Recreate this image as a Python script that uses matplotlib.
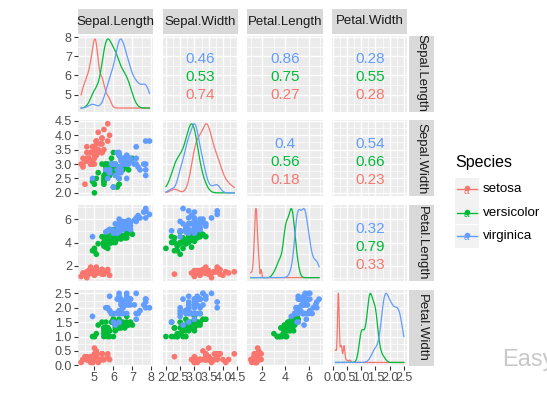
import numpy as np
import matplotlib
matplotlib.use("Agg")
import matplotlib.pyplot as plt

plt.rcParams['font.family'] = ['Liberation Sans', 'DejaVu Sans']

# ---------------- data (iris) ----------------
variables = ["Sepal.Length", "Sepal.Width", "Petal.Length", "Petal.Width"]
species = ["setosa", "versicolor", "virginica"]
colors = ["#F8766D", "#00BA38", "#619CFF"]

setosa_sl = [5.1,4.9,4.7,4.6,5.0,5.4,4.6,5.0,4.4,4.9,5.4,4.8,4.8,4.3,5.8,5.7,5.4,5.1,5.7,5.1,5.4,5.1,4.6,5.1,4.8,5.0,5.0,5.2,5.2,4.7,4.8,5.4,5.2,5.5,4.9,5.0,5.5,4.9,4.4,5.1,5.0,4.5,4.4,5.0,5.1,4.8,5.1,4.6,5.3,5.0]
setosa_sw = [3.5,3.0,3.2,3.1,3.6,3.9,3.4,3.4,2.9,3.1,3.7,3.4,3.0,3.0,4.0,4.4,3.9,3.5,3.8,3.8,3.4,3.7,3.6,3.3,3.4,3.0,3.4,3.5,3.4,3.2,3.1,3.4,4.1,4.2,3.1,3.2,3.5,3.6,3.0,3.4,3.5,2.3,3.2,3.5,3.8,3.0,3.8,3.2,3.7,3.3]
setosa_pl = [1.4,1.4,1.3,1.5,1.4,1.7,1.4,1.5,1.4,1.5,1.5,1.6,1.4,1.1,1.2,1.5,1.3,1.4,1.7,1.5,1.7,1.5,1.0,1.7,1.9,1.6,1.6,1.5,1.4,1.6,1.6,1.5,1.5,1.4,1.5,1.2,1.3,1.4,1.3,1.5,1.3,1.3,1.3,1.6,1.9,1.4,1.6,1.4,1.5,1.4]
setosa_pw = [0.2,0.2,0.2,0.2,0.2,0.4,0.3,0.2,0.2,0.1,0.2,0.2,0.1,0.1,0.2,0.4,0.4,0.3,0.3,0.3,0.2,0.4,0.2,0.5,0.2,0.2,0.4,0.2,0.2,0.2,0.2,0.4,0.1,0.2,0.2,0.2,0.2,0.1,0.2,0.2,0.3,0.3,0.2,0.6,0.4,0.3,0.2,0.2,0.2,0.2]

versicolor_sl = [7.0,6.4,6.9,5.5,6.5,5.7,6.3,4.9,6.6,5.2,5.0,5.9,6.0,6.1,5.6,6.7,5.6,5.8,6.2,5.6,5.9,6.1,6.3,6.1,6.4,6.6,6.8,6.7,6.0,5.7,5.5,5.5,5.8,6.0,5.4,6.0,6.7,6.3,5.6,5.5,5.5,6.1,5.8,5.0,5.6,5.7,5.7,6.2,5.1,5.7]
versicolor_sw = [3.2,3.2,3.1,2.3,2.8,2.8,3.3,2.4,2.9,2.7,2.0,3.0,2.2,2.9,2.9,3.1,3.0,2.7,2.2,2.5,3.2,2.8,2.5,2.8,2.9,3.0,2.8,3.0,2.9,2.6,2.4,2.4,2.7,2.7,3.0,3.4,3.1,2.3,3.0,2.5,2.6,3.0,2.6,2.3,2.7,3.0,2.9,2.9,2.5,2.8]
versicolor_pl = [4.7,4.5,4.9,4.0,4.6,4.5,4.7,3.3,4.6,3.9,3.5,4.2,4.0,4.7,3.6,4.4,4.5,4.1,4.5,3.9,4.8,4.0,4.9,4.7,4.3,4.4,4.8,5.0,4.5,3.5,3.8,3.7,3.9,5.1,4.5,4.5,4.7,4.4,4.1,4.0,4.4,4.6,4.0,3.3,4.2,4.2,4.2,4.3,3.0,4.1]
versicolor_pw = [1.4,1.5,1.5,1.3,1.5,1.3,1.6,1.0,1.3,1.4,1.0,1.5,1.0,1.4,1.3,1.4,1.5,1.0,1.5,1.1,1.8,1.3,1.5,1.2,1.3,1.4,1.4,1.7,1.5,1.0,1.1,1.0,1.2,1.6,1.5,1.6,1.5,1.3,1.3,1.3,1.2,1.4,1.2,1.0,1.3,1.2,1.3,1.3,1.1,1.3]

virginica_sl = [6.3,5.8,7.1,6.3,6.5,7.6,4.9,7.3,6.7,7.2,6.5,6.4,6.8,5.7,5.8,6.4,6.5,7.7,7.7,6.0,6.9,5.6,7.7,6.3,6.7,7.2,6.2,6.1,6.4,7.2,7.4,7.9,6.4,6.3,6.1,7.7,6.3,6.4,6.0,6.9,6.7,6.9,5.8,6.8,6.7,6.7,6.3,6.5,6.2,5.9]
virginica_sw = [3.3,2.7,3.0,2.9,3.0,3.0,2.5,2.9,2.5,3.6,3.2,2.7,3.0,2.5,2.8,3.2,3.0,3.8,2.6,2.2,3.2,2.8,2.8,2.7,3.3,3.2,2.8,3.0,2.8,3.0,2.8,3.8,2.8,2.8,2.6,3.0,3.4,3.1,3.0,3.1,3.1,3.1,2.7,3.2,3.3,3.0,2.5,3.0,3.4,3.0]
virginica_pl = [6.0,5.1,5.9,5.6,5.8,6.6,4.5,6.3,5.8,6.1,5.1,5.3,5.5,5.0,5.1,5.3,5.5,6.7,6.9,5.0,5.7,4.9,6.7,4.9,5.7,6.0,4.8,4.9,5.6,5.8,6.1,6.4,5.6,5.1,5.6,6.1,5.6,5.5,4.8,5.4,5.6,5.1,5.1,5.9,5.7,5.2,5.0,5.2,5.4,5.1]
virginica_pw = [2.5,1.9,2.1,1.8,2.2,2.1,1.7,1.8,1.8,2.5,2.0,1.9,2.1,2.0,2.4,2.3,1.8,2.2,2.3,1.5,2.3,2.0,2.0,1.8,2.1,1.8,1.8,1.8,2.1,1.6,1.9,2.0,2.2,1.5,1.4,2.3,2.4,1.8,1.8,2.1,2.4,2.3,1.9,2.3,2.5,2.3,1.9,2.0,2.3,1.8]

# correlation labels shown in upper panels (virginica, versicolor, setosa from top)
corr_sl_sw = ["0.46", "0.53", "0.74"]
corr_sl_pl = ["0.86", "0.75", "0.27"]
corr_sl_pw = ["0.28", "0.55", "0.28"]
corr_sw_pl = ["0.4", "0.56", "0.18"]
corr_sw_pw = ["0.54", "0.66", "0.23"]
corr_pl_pw = ["0.32", "0.79", "0.33"]

# axis breaks
ticks_sl = [5, 6, 7, 8]
ticks_sw = [2.0, 2.5, 3.0, 3.5, 4.0, 4.5]
ticks_pl = [2, 4, 6]
ticks_pw = [0.0, 0.5, 1.0, 1.5, 2.0, 2.5]
labels_sl = ["5", "6", "7", "8"]
labels_sw = ["2.0", "2.5", "3.0", "3.5", "4.0", "4.5"]
labels_pl = ["2", "4", "6"]
labels_pw = ["0.0", "0.5", "1.0", "1.5", "2.0", "2.5"]

# ---------------- assemble ----------------
data = {
    "setosa": [setosa_sl, setosa_sw, setosa_pl, setosa_pw],
    "versicolor": [versicolor_sl, versicolor_sw, versicolor_pl, versicolor_pw],
    "virginica": [virginica_sl, virginica_sw, virginica_pl, virginica_pw],
}
ticks = [ticks_sl, ticks_sw, ticks_pl, ticks_pw]
tlabels = [labels_sl, labels_sw, labels_pl, labels_pw]
corr = {(0, 1): corr_sl_sw, (0, 2): corr_sl_pl, (0, 3): corr_sl_pw,
        (1, 2): corr_sw_pl, (1, 3): corr_sw_pw, (2, 3): corr_pl_pw}

ranges = []
for k in range(4):
    allv = np.concatenate([np.asarray(data[s][k], float) for s in species])
    ranges.append((allv.min(), allv.max()))


def lims(k):
    lo, hi = ranges[k]
    r = hi - lo
    return lo - 0.05 * r, hi + 0.05 * r


def minor_ticks(k):
    t = np.asarray(ticks[k], float)
    step = t[1] - t[0]
    cand = np.arange(t[0] - step / 2, t[-1] + step, step)
    lo, hi = lims(k)
    return [c for c in cand if lo <= c <= hi]


def kde(x, grid):
    x = np.asarray(x, float)
    n = len(x)
    sd = x.std(ddof=1)
    q75, q25 = np.percentile(x, [75, 25])
    lo = min(sd, (q75 - q25) / 1.34)
    bw = 0.9 * lo * n ** -0.2
    z = (grid[:, None] - x[None, :]) / bw
    return np.exp(-0.5 * z ** 2).sum(1) / (n * bw * np.sqrt(2 * np.pi))


W, H = 547, 393
fig = plt.figure(figsize=(W / 100, H / 100), dpi=100)

col_left = [77.7 + 84.8 * j for j in range(4)]
row_top = [35.5 + 84.8 * i for i in range(4)]
pw, ph = 75.2, 76.0

BG = "#EBEBEB"
TICKC = "#333333"
LABC = "#4D4D4D"

for i in range(4):
    for j in range(4):
        ax = fig.add_axes([col_left[j] / W, 1 - (row_top[i] + ph) / H, pw / W, ph / H])
        ax.set_facecolor(BG)
        for sp in ax.spines.values():
            sp.set_visible(False)
        ax.set_xlim(*lims(j))
        ax.set_ylim(*lims(i))
        ax.set_xticks(ticks[j])
        ax.set_xticks(minor_ticks(j), minor=True)
        ax.set_yticks(ticks[i])
        ax.set_yticks(minor_ticks(i), minor=True)
        ax.grid(True, which="major", color="white", lw=1.0)
        ax.grid(True, which="minor", color="white", lw=0.5)
        ax.set_axisbelow(True)
        ax.tick_params(which="minor", length=0)
        ax.tick_params(which="major", length=2.7, width=0.8, color=TICKC,
                       labelsize=9, labelcolor=LABC, pad=1.5)
        if j == 0:
            ax.set_yticklabels(tlabels[i])
        else:
            ax.tick_params(axis="y", which="major", length=0, labelleft=False)
        if i == 3:
            ax.set_xticklabels(tlabels[j])
        else:
            ax.tick_params(axis="x", which="major", length=0, labelbottom=False)

        if i > j:
            for s, c in zip(species, colors):
                ax.scatter(data[s][j], data[s][i], s=17, color=c, edgecolors="none", zorder=3)
        elif i == j:
            lo, hi = ranges[i]
            grid = np.linspace(lo, hi, 512)
            for s, c in zip(species, colors):
                d = kde(data[s][i], grid)
                d = d / d.max()
                ax.plot(grid, lo + d * (hi - lo), color=c, lw=0.9, zorder=3)
            ax.set_ylim(*lims(i))
        else:
            labs = corr[(i, j)]
            for lab, c, yf in zip(labs, colors[::-1], [0.71, 0.472, 0.234]):
                ax.text(0.5, yf, lab, transform=ax.transAxes, ha="center",
                        va="center_baseline", fontsize=11, color=c)

# ---------------- overlay: strips, legend, watermark ----------------
ov = fig.add_axes([0, 0, 1, 1])
ov.set_xlim(0, W)
ov.set_ylim(H, 0)
ov.axis("off")
ov.patch.set_visible(False)

STRIP = "#D9D9D9"
for j in range(4):
    ov.add_patch(plt.Rectangle((col_left[j], 9), pw, 24.5, color=STRIP, lw=0))
    ov.text(col_left[j] + pw / 2, 21.5, variables[j], ha="center", va="center",
            fontsize=9.5, color="#1A1A1A")
for i in range(4):
    ov.add_patch(plt.Rectangle((409, row_top[i]), 25, ph, color=STRIP, lw=0))
    ov.text(421.5, row_top[i] + ph / 2, variables[i], ha="center", va="center",
            rotation=-90, fontsize=9.5, color="#1A1A1A")

# legend
ov.text(455, 162, "Species", ha="left", va="center", fontsize=11.5, color="black")
key_y = [189, 212.5, 236]
for s, c, ky in zip(species, colors, key_y):
    ov.add_patch(plt.Rectangle((455, ky - 11.5), 23.5, 23, color="#F2F2F2", lw=0))
    ov.plot([457, 476.5], [ky, ky], color=c, lw=1.0)
    ov.plot([466.7], [ky - 1], marker="o", ms=4, color=c, mec="none")
    ov.text(466.7, ky + 1.5, "a", ha="center", va="center", fontsize=7, color=c)
    ov.text(483, ky, s, ha="left", va="center", fontsize=9.6, color="black")

# watermark
ov.text(502, 360, "Easy", ha="left", va="center", fontsize=17, color="#C8C8C8")

fig.savefig("out.png", dpi=100)
